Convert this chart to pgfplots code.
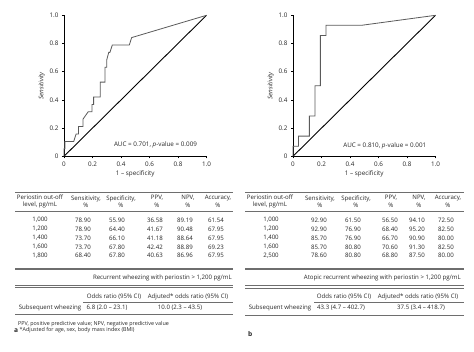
\documentclass[border=0pt]{standalone}
\usepackage{pgfplots}
\usepackage{pgfplotstable}
\pgfplotsset{compat=1.18}
\usepackage{fontspec}
\setmainfont{Open Sans}
\definecolor{txt}{HTML}{262626}
\definecolor{rule}{HTML}{6E6E6E}
\definecolor{roc}{HTML}{5A5A5A}
\newcommand{\tf}{\fontsize{6.1}{7.4}\selectfont}
\newcommand{\af}{\fontsize{6.3}{7.5}\selectfont}
\newcommand{\ff}{\fontsize{5.4}{6.5}\selectfont}

\pgfplotstableread{
x y
0 0
0 0.053
0.006 0.053
0.006 0.105
0.068 0.105
0.085 0.158
0.102 0.158
0.102 0.211
0.133 0.211
0.133 0.263
0.17 0.316
0.197 0.316
0.197 0.368
0.208 0.368
0.208 0.421
0.254 0.421
0.254 0.526
0.288 0.526
0.288 0.632
0.300 0.632
0.300 0.684
0.314 0.737
0.322 0.737
0.339 0.789
0.458 0.789
0.475 0.842
1 1
}\roca

\pgfplotstableread{
x y
0 0
0 0.071
0.038 0.071
0.038 0.143
0.115 0.143
0.115 0.286
0.154 0.286
0.154 0.5
0.192 0.5
0.192 0.857
0.231 0.857
0.231 0.929
0.48 0.929
1 1
}\rocb

\pgfplotsset{rocstyle/.style={
  scale only axis, width=142.5pt, height=141pt,
  xmin=0, xmax=1, ymin=0, ymax=1,
  axis lines=left, axis line style={-, line width=0.6pt, black},
  xtick={0,0.2,0.4,0.6,0.8,1}, ytick={0,0.2,0.4,0.6,0.8,1},
  xticklabels={0,0.2,0.4,0.6,0.8,1.0}, yticklabels={0,0.2,0.4,0.6,0.8,1.0},
  tick align=outside, major tick length=2pt,
  tick style={line width=0.5pt, black},
  ticklabel style={font=\af, text=txt},
  xlabel={1 – specificity}, ylabel={\itshape Sensitivity},
  label style={font=\af, text=txt},
  xlabel style={at={(axis description cs:0.5,-0.125)}, anchor=center},
  ylabel style={at={(axis description cs:-0.155,0.5)}, anchor=center},
  clip=false,
}}

\begin{document}
\begin{tikzpicture}
\path[use as bounding box] (0,0) rectangle (474pt,-351pt);

\begin{axis}[rocstyle, at={(64pt,-156.3pt)}, anchor=south west]
\addplot[black, line width=0.9pt] coordinates {(0,0) (1,1)};
\addplot[roc, line width=0.8pt] table[x=x,y=y] {\roca};
\node[font=\af, text=txt, anchor=east] at (axis cs:0.958,0.08) {AUC = 0.701, \textit{p}-value = 0.009};
\end{axis}

\begin{axis}[rocstyle, at={(293pt,-156.3pt)}, anchor=south west]
\addplot[black, line width=0.9pt] coordinates {(0,0) (1,1)};
\addplot[roc, line width=0.8pt] table[x=x,y=y] {\rocb};
\node[font=\af, text=txt, anchor=east] at (axis cs:0.96,0.072) {AUC = 0.810, \textit{p}-value = 0.001};
\end{axis}

\begin{scope}[x=1pt, y=-1pt, every node/.style={font=\tf, text=txt, inner sep=0pt}]
% ---------------- Table a ----------------
\draw[rule, line width=1.1pt] (15,192.5) -- (233,192.5);
\node[align=center] at (40,201.5) {Periostin out-off\\level, pg/mL};
\node[align=center] at (86,201.5) {Sensitivity,\\\%};
\node[align=center] at (121,201.5) {Specificity,\\\%};
\node[align=center] at (157,201.5) {PPV,\\\%};
\node[align=center] at (188,201.5) {NPV,\\\%};
\node[align=center] at (218,201.5) {Accuracy,\\\%};
\draw[rule, line width=0.6pt] (15,211.5) -- (233,211.5);
\node at (40,220) {1,000}; \node at (83,220) {78.90}; \node at (117,220) {55.90}; \node at (155,220) {36.58}; \node at (185,220) {89.19}; \node at (216,220) {61.54};
\node at (40,229) {1,200}; \node at (83,229) {78.90}; \node at (117,229) {64.40}; \node at (155,229) {41.67}; \node at (185,229) {90.48}; \node at (216,229) {67.95};
\node at (40,238) {1,400}; \node at (83,238) {73.70}; \node at (117,238) {66.10}; \node at (155,238) {41.18}; \node at (185,238) {88.64}; \node at (216,238) {67.95};
\node at (40,247) {1,600}; \node at (83,247) {73.70}; \node at (117,247) {67.80}; \node at (155,247) {42.42}; \node at (185,247) {88.89}; \node at (216,247) {69.23};
\node at (40,255.5) {1,800}; \node at (83,255.5) {68.40}; \node at (117,255.5) {67.80}; \node at (155,255.5) {40.63}; \node at (185,255.5) {86.96}; \node at (216,255.5) {67.95};
\draw[rule, line width=1.4pt] (15,269) -- (233,269);
\node[anchor=east] at (232,278) {Recurrent wheezing with periostin > 1,200 pg/mL};
\draw[rule, line width=0.8pt] (15,285) -- (233,285);
\draw[rule, line width=0.8pt] (15,287.6) -- (233,287.6);
\node at (114,297) {Odds ratio (95\% CI)};
\node at (188,297) {Adjuted* odds ratio (95\% CI)};
\draw[rule, line width=0.6pt] (83,302) -- (233,302);
\node at (50,307.5) {Subsequent wheezing};
\node at (107,307.5) {6.8 (2.0 – 23.1)};
\node at (180,307.5) {10.0 (2.3 – 43.5)};
\draw[rule, line width=1pt] (15,314) -- (233,314);
\node[anchor=west, font=\ff] at (18,324.5) {PPV, positive predictive value; NPV, negative predictive value};
\node[anchor=west, font=\fontsize{6.6}{7}\selectfont\bfseries] at (14,331) {a};
\node[anchor=west, font=\ff] at (19.5,330.5) {*Adjusted for age, sex, body mass index (BMI)};

% ---------------- Table b ----------------
\draw[rule, line width=1.1pt] (245,192.5) -- (464,192.5);
\node[align=center] at (270,201.5) {Periostin out-off\\level, pg/mL};
\node[align=center] at (320,201.5) {Sensitivity,\\\%};
\node[align=center] at (356,201.5) {Specificity,\\\%};
\node[align=center] at (391,201.5) {PPV,\\\%};
\node[align=center] at (419,201.5) {NPV,\\\%};
\node[align=center] at (448,201.5) {Accuracy,\\\%};
\draw[rule, line width=0.6pt] (245,211.5) -- (464,211.5);
\node at (271,220) {1,000}; \node at (319,220) {92.90}; \node at (353,220) {61.50}; \node at (390,220) {56.50}; \node at (417,220) {94.10}; \node at (446,220) {72.50};
\node at (271,229) {1,200}; \node at (319,229) {92.90}; \node at (353,229) {76.90}; \node at (390,229) {68.40}; \node at (417,229) {95.20}; \node at (446,229) {82.50};
\node at (271,238) {1,400}; \node at (319,238) {85.70}; \node at (353,238) {76.90}; \node at (390,238) {66.70}; \node at (417,238) {90.90}; \node at (446,238) {80.00};
\node at (271,247) {1,600}; \node at (319,247) {85.70}; \node at (353,247) {80.80}; \node at (390,247) {70.60}; \node at (417,247) {91.30}; \node at (446,247) {82.50};
\node at (271,255.5) {2,500}; \node at (319,255.5) {78.60}; \node at (353,255.5) {80.80}; \node at (390,255.5) {68.80}; \node at (417,255.5) {87.50}; \node at (446,255.5) {80.00};
\draw[rule, line width=1.4pt] (245,269) -- (464,269);
\node[anchor=east] at (461,278) {Atopic recurrent wheezing with periostin > 1,200 pg/mL};
\draw[rule, line width=0.8pt] (245,285.5) -- (464,285.5);
\draw[rule, line width=0.8pt] (245,288.1) -- (464,288.1);
\node at (344,297) {Odds ratio (95\% CI)};
\node at (418,297) {Adjuted* odds ratio (95\% CI)};
\draw[rule, line width=0.6pt] (314,302) -- (464,302);
\node at (280,308) {Subsequent wheezing};
\node at (341,308) {43.3 (4.7 – 402.7)};
\node at (421,308) {37.5 (3.4 – 418.7)};
\draw[rule, line width=1pt] (245,315) -- (464,315);
\node[anchor=west, font=\fontsize{6.6}{7}\selectfont\bfseries] at (248,334) {b};
\end{scope}
\end{tikzpicture}
\end{document}
